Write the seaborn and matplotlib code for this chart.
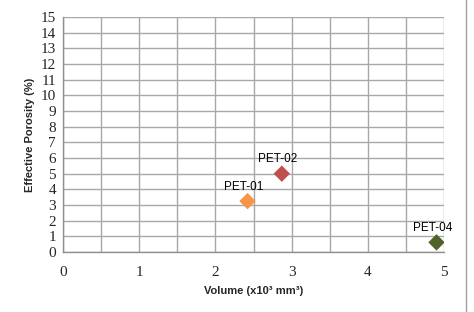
import matplotlib
matplotlib.use("Agg")
import matplotlib.pyplot as plt
import seaborn as sns
import pandas as pd
from matplotlib.lines import Line2D

samples = ["PET-01", "PET-02", "PET-04"]
volume = [2.42, 2.87, 4.90]
porosity = [3.25, 5.0, 0.62]
colors = ["#F79646", "#C0504D", "#4F6228"]
x_ticks = [0, 1, 2, 3, 4, 5]
y_ticks = list(range(0, 16))

df = pd.DataFrame({"sample": samples, "volume": volume, "porosity": porosity})

sns.set_style("white")
fig = plt.figure(figsize=(4.74, 3.12), dpi=100)
ax = fig.add_axes([0.133, 0.192, 0.804, 0.754])

sns.scatterplot(data=df, x="volume", y="porosity", hue="sample",
                palette=colors, marker="D", s=70, edgecolor="none",
                legend=False, ax=ax, zorder=5)

for s, xv, yv in zip(samples, volume, porosity):
    ax.annotate(s, (xv, yv), xytext=(-3, 6), textcoords="offset points",
                ha="center", va="bottom", fontsize=8.5,
                family="Liberation Sans", color="#000000", zorder=6)

ax.set_xlim(0, 5)
ax.set_ylim(0, 15)
ax.set_xticks(x_ticks)
ax.set_xticks([0.5, 1.5, 2.5, 3.5, 4.5], minor=True)
ax.set_yticks(y_ticks)
ax.set_xticklabels([str(v) for v in x_ticks], family="Liberation Serif", fontsize=11)
ax.set_yticklabels([str(v) for v in y_ticks], family="Liberation Serif", fontsize=11)
ax.grid(True, which="both", color="#A8A8A8", linewidth=1.0)
ax.tick_params(axis="both", which="both", direction="out", length=3,
               color="#909090", width=0.8)
ax.tick_params(axis="x", which="major", pad=7)
ax.tick_params(axis="y", which="major", pad=2)
for side in ["top", "right"]:
    ax.spines[side].set_visible(False)
for side in ["left", "bottom"]:
    ax.spines[side].set_color("#909090")
    ax.spines[side].set_linewidth(1.0)
ax.set_axisbelow(True)

ax.set_xlabel("Volume (x10³ mm³)", family="Liberation Sans", fontweight="bold",
              fontsize=8, labelpad=5)
ax.set_ylabel("Effective Porosity (%)", family="Liberation Sans", fontweight="bold",
              fontsize=8, labelpad=4)

fig.add_artist(Line2D([465.5 / 474, 465.5 / 474], [0, 1], color="#A0A0A0",
                      linewidth=1.0, transform=fig.transFigure))

fig.savefig("out.png", dpi=100)
